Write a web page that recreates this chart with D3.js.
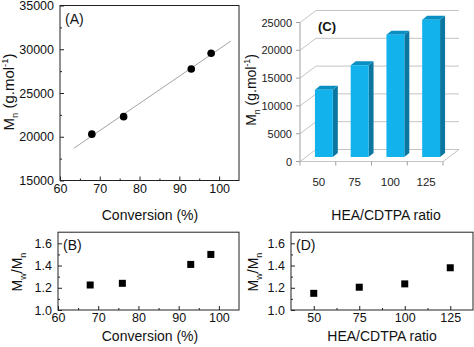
<!DOCTYPE html>
<html>
  <head>
    <meta charset="utf-8" />
    <title>Mn and dispersity</title>
    <script src="https://d3js.org/d3.v7.min.js"></script>
    <style>
        body {
            margin: 0;
            background: #fff;
        }
        svg text {
            font-family: "Liberation Sans", Arial, sans-serif;
        }
    </style>
  </head>
  <body>
    <svg id="fig" width="474" height="347"></svg>

    <script>
        // (A) Mn vs conversion
        var conversion = [68, 76, 93, 98];
        var mnConv = [20300, 22300, 27750, 29550];
        var fitRange = [63.5, 103];
        // (B) dispersity vs conversion
        var dispConv = [1.225, 1.24, 1.41, 1.50];
        // (C) Mn vs HEA/CDTPA ratio
        var ratios = [50, 75, 100, 125];
        var mnRatio = [12100, 16500, 22000, 24700];
        // (D) dispersity vs ratio
        var dispRatio = [1.15, 1.205, 1.235, 1.38];

        var convTicks = [60, 70, 80, 90, 100];
        var mnTicks = [15000, 20000, 25000, 30000, 35000];
        var dispTicks = [1.0, 1.2, 1.4, 1.6];
        var barTicks = [0, 5000, 10000, 15000, 20000, 25000];

        var svg = d3.select("#fig");

        // Origin-style boxed plot with inward ticks
        function boxPlot(o) {
            var g = svg.append("g");
            var x = d3.scaleLinear().domain(o.xDomain).range(o.xRange);
            var y = d3.scaleLinear().domain(o.yDomain).range(o.yRange);
            var x0 = o.xRange[0], x1 = o.xRange[1], y0 = o.yRange[0], y1 = o.yRange[1];

            g.append("rect")
                .attr("x", x0).attr("y", y1)
                .attr("width", x1 - x0).attr("height", y0 - y1)
                .attr("fill", "none").attr("stroke", "#222").attr("stroke-width", 1);

            // major + minor ticks along x
            var xt = g.append("g").attr("transform", "translate(0," + y0 + ")");
            xt.call(d3.axisBottom(x).tickValues(o.xTicks).tickSizeInner(-4).tickSizeOuter(0).tickPadding(o.pad));
            xt.call(function(a) {
                a.select(".domain").remove();
                a.selectAll("text").attr("font-size", 12.5).attr("fill", "#111");
            });
            var xm = g.append("g").attr("transform", "translate(0," + y0 + ")");
            xm.call(d3.axisBottom(x).tickValues(o.xMinor).tickSize(-2).tickFormat(""));
            xm.select(".domain").remove();

            var yt = g.append("g").attr("transform", "translate(" + x0 + ",0)");
            yt.call(d3.axisLeft(y).tickValues(o.yTicks).tickSizeInner(-4).tickSizeOuter(0).tickPadding(6)
                .tickFormat(o.yFormat));
            yt.call(function(a) {
                a.select(".domain").remove();
                a.selectAll("text").attr("font-size", 12.5).attr("fill", "#111");
            });
            var ym = g.append("g").attr("transform", "translate(" + x0 + ",0)");
            ym.call(d3.axisLeft(y).tickValues(o.yMinor).tickSize(-2).tickFormat(""));
            ym.select(".domain").remove();

            g.selectAll(".tick line").attr("stroke", "#222");

            g.append("text")
                .attr("x", x0 + 5).attr("y", y1 + 18)
                .attr("font-size", 14).attr("fill", "#111")
                .text(o.tag);
            return {g: g, x: x, y: y};
        }

        function mnTitle(sel, x, y, size) {
            var t = sel.append("text")
                .attr("transform", "translate(" + x + "," + y + ") rotate(-90)")
                .attr("text-anchor", "middle")
                .attr("font-size", size).attr("fill", "#111");
            t.append("tspan").text("M");
            t.append("tspan").attr("font-size", size * 0.62).attr("dy", 4).text("n");
            t.append("tspan").attr("dy", -4).text(" (g.mol");
            t.append("tspan").attr("font-size", size * 0.62).attr("dy", -6).text("-1");
            t.append("tspan").attr("dy", 6).text(")");
        }

        function dispTitle(sel, x, y) {
            var t = sel.append("text")
                .attr("transform", "translate(" + x + "," + y + ") rotate(-90)")
                .attr("text-anchor", "middle")
                .attr("font-size", 14).attr("fill", "#111");
            t.append("tspan").text("M");
            t.append("tspan").attr("font-size", 9).attr("dy", 4).text("w");
            t.append("tspan").attr("dy", -4).text("/M");
            t.append("tspan").attr("font-size", 9).attr("dy", 4).text("n");
        }

        function xTitle(text, x, y) {
            svg.append("text")
                .attr("x", x).attr("y", y)
                .attr("text-anchor", "middle")
                .attr("font-size", 14).attr("fill", "#111")
                .text(text);
        }

        // ---- (A)
        var A = boxPlot({
            xDomain: [60, 105], xRange: [60, 239],
            yDomain: [15000, 35000], yRange: [180.5, 5.5],
            xTicks: convTicks, xMinor: [65, 75, 85, 95],
            yTicks: mnTicks, yMinor: [17500, 22500, 27500, 32500],
            yFormat: d3.format("d"), tag: "(A)", pad: 4
        });
        var mx = d3.mean(conversion), my = d3.mean(mnConv);
        var slope = d3.sum(conversion, function(c, i) { return (c - mx) * (mnConv[i] - my); }) /
                    d3.sum(conversion, function(c) { return (c - mx) * (c - mx); });
        A.g.append("path")
            .attr("d", d3.line()
                .x(function(c) { return A.x(c); })
                .y(function(c) { return A.y(my + slope * (c - mx)); })(fitRange))
            .attr("stroke", "#999").attr("stroke-width", 0.9).attr("fill", "none");
        A.g.selectAll(".pt").data(conversion).enter().append("circle")
            .attr("cx", function(d) { return A.x(d); })
            .attr("cy", function(d, i) { return A.y(mnConv[i]); })
            .attr("r", 3.8).attr("fill", "#000");
        mnTitle(svg, 14, 92, 15);
        xTitle("Conversion (%)", 150, 220);

        // ---- (B)
        var B = boxPlot({
            xDomain: [60, 105], xRange: [58, 239],
            yDomain: [1.0, 1.7], yRange: [310, 232.2],
            xTicks: convTicks, xMinor: [65, 75, 85, 95],
            yTicks: dispTicks, yMinor: [1.1, 1.3, 1.5],
            yFormat: d3.format(".1f"), tag: "(B)", pad: 3
        });
        B.g.selectAll(".pt").data(conversion).enter().append("rect")
            .attr("x", function(d) { return B.x(d) - 3.5; })
            .attr("y", function(d, i) { return B.y(dispConv[i]) - 3.5; })
            .attr("width", 7).attr("height", 7).attr("fill", "#000");
        dispTitle(svg, 22, 272);
        xTitle("Conversion (%)", 150, 341);

        // ---- (D)
        var D = boxPlot({
            xDomain: [37.5, 137.5], xRange: [291, 473],
            yDomain: [1.0, 1.7], yRange: [310, 232.2],
            xTicks: ratios, xMinor: [62.5, 87.5, 112.5],
            yTicks: dispTicks, yMinor: [1.1, 1.3, 1.5],
            yFormat: d3.format(".1f"), tag: "(D)", pad: 3
        });
        D.g.selectAll(".pt").data(ratios).enter().append("rect")
            .attr("x", function(d) { return D.x(d) - 3.5; })
            .attr("y", function(d, i) { return D.y(dispRatio[i]) - 3.5; })
            .attr("width", 7).attr("height", 7).attr("fill", "#000");
        dispTitle(svg, 258, 272);
        xTitle("HEA/CDTPA ratio", 382, 341);

        // ---- (C) 3D column chart
        var C = svg.append("g");
        var depth = {dx: 16, dy: -12};
        var cx = d3.scaleBand().domain(ratios).range([300, 443]).paddingInner(0.5).paddingOuter(0.25);
        var cy = d3.scaleLinear().domain([0, 25000]).range([161.5, 22.5]);
        var grid = "#c4c4c4";

        // back wall gridlines with the receding side-wall segment
        C.selectAll(".grid").data(barTicks).enter().append("path")
            .attr("d", function(v) {
                var yy = cy(v);
                return "M300," + yy + "L" + (300 + depth.dx) + "," + (yy + depth.dy) +
                       "H" + (443 + depth.dx);
            })
            .attr("fill", "none").attr("stroke", grid).attr("stroke-width", 1);
        // floor front and right edge
        C.append("path")
            .attr("d", "M300," + cy(0) + "H443L" + (443 + depth.dx) + "," + (cy(0) + depth.dy))
            .attr("fill", "none").attr("stroke", grid);
        // value axis
        C.append("line")
            .attr("x1", 300).attr("x2", 300)
            .attr("y1", cy(25000)).attr("y2", cy(0))
            .attr("stroke", "#a0a0a0");
        C.selectAll(".ytick").data(barTicks).enter().append("line")
            .attr("x1", 296).attr("x2", 300)
            .attr("y1", function(v) { return cy(v); })
            .attr("y2", function(v) { return cy(v); })
            .attr("stroke", "#a0a0a0");
        C.selectAll(".ylab").data(barTicks).enter().append("text")
            .attr("x", 292).attr("y", function(v) { return cy(v) + 4; })
            .attr("text-anchor", "end").attr("font-size", 11).attr("fill", "#222")
            .text(function(v) { return v; });

        // category ticks between bars
        var bounds = [300].concat(ratios.map(function(r) { return cx(r) + cx.bandwidth() + cx.step() * 0.25; }));
        C.selectAll(".xtick").data(bounds).enter().append("line")
            .attr("x1", function(d) { return d; }).attr("x2", function(d) { return d; })
            .attr("y1", cy(0)).attr("y2", cy(0) + 4)
            .attr("stroke", "#a0a0a0");
        C.selectAll(".xlab").data(ratios).enter().append("text")
            .attr("x", function(r) { return cx(r) + cx.bandwidth() / 2 + 1; })
            .attr("y", 186)
            .attr("text-anchor", "middle").attr("font-size", 11.5).attr("fill", "#222")
            .text(function(r) { return r; });

        // bars sit mid-depth: front offset and own thickness
        var off = {dx: 6, dy: -4.5}, thick = {dx: 5, dy: -4};
        var bars = C.selectAll(".bar").data(ratios).enter().append("g");
        function pts(a) { return a.map(function(p) { return p.join(","); }).join(" "); }
        bars.each(function(r, i) {
            var g = d3.select(this);
            var x0 = cx(r) + off.dx, x1 = x0 + cx.bandwidth();
            var yb = cy(0) + off.dy, yt = cy(mnRatio[i]) + off.dy;
            g.append("polygon")
                .attr("points", pts([[x1, yb], [x1 + thick.dx, yb + thick.dy],
                                     [x1 + thick.dx, yt + thick.dy], [x1, yt]]))
                .attr("fill", "#0b77a1");
            g.append("polygon")
                .attr("points", pts([[x0, yt], [x1, yt], [x1 + thick.dx, yt + thick.dy],
                                     [x0 + thick.dx, yt + thick.dy]]))
                .attr("fill", "#0a8fc2");
            g.append("rect")
                .attr("x", x0).attr("y", yt)
                .attr("width", x1 - x0).attr("height", yb - yt)
                .attr("fill", "#12b2ec");
        });

        C.append("text")
            .attr("x", 318).attr("y", 31)
            .attr("font-size", 13).attr("font-weight", "bold").attr("fill", "#111")
            .text("(C)");
        mnTitle(C, 256, 90, 14);
        xTitle("HEA/CDTPA ratio", 386, 220);
    </script>
  </body>
</html>
